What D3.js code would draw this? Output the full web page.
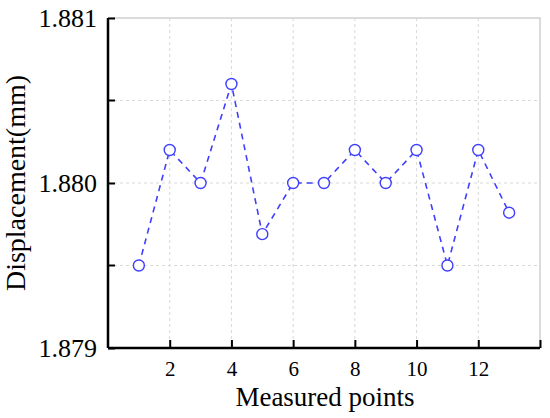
<!DOCTYPE html>
<html>
<head>
<meta charset="utf-8">
<title>Displacement</title>
<style>
  body { margin: 0; background: #fff; }
  svg { display: block; }
  text { font-family: "Liberation Serif", "Times New Roman", serif; fill: #000; }
</style>
<script src="https://d3js.org/d3.v7.min.js"></script>
</head>
<body>
<div id="chart"></div>
<script>
// data
var points = [1, 2, 3, 4, 5, 6, 7, 8, 9, 10, 11, 12, 13];
var displacement = [1.8795, 1.8802, 1.8800, 1.8806, 1.87969, 1.8800, 1.8800,
                    1.8802, 1.8800, 1.8802, 1.8795, 1.8802, 1.87982];
var xTicks = [2, 4, 6, 8, 10, 12];
var yTicks = [1.879, 1.880, 1.881];
var yMinor = [1.8795, 1.8805];

var svgDims = {width: 550, height: 418};
var margin = {top: 18, right: 10, bottom: 70, left: 108};
var width = svgDims.width - margin.left - margin.right;
var height = svgDims.height - margin.top - margin.bottom;

var svg = d3.select("#chart").append("svg")
  .attr("width", svgDims.width)
  .attr("height", svgDims.height);

var g = svg.append("g")
  .attr("transform", "translate(" + margin.left + "," + margin.top + ")");

var x = d3.scaleLinear().domain([0, 14]).range([0, width]);
var y = d3.scaleLinear().domain([1.879, 1.881]).range([height, 0]);

// grid
g.append("g").selectAll("line").data(xTicks).join("line")
  .attr("x1", function(d) { return x(d); }).attr("x2", function(d) { return x(d); })
  .attr("y1", 0).attr("y2", height)
  .attr("stroke", "#d9d9d9").attr("stroke-width", 1).attr("stroke-dasharray", "3,3");
g.append("g").selectAll("line").data([1.8795, 1.880, 1.8805]).join("line")
  .attr("y1", function(d) { return y(d); }).attr("y2", function(d) { return y(d); })
  .attr("x1", 0).attr("x2", width)
  .attr("stroke", "#d9d9d9").attr("stroke-width", 1).attr("stroke-dasharray", "3,3");

// top / right frame
g.append("path")
  .attr("d", "M0,0H" + width + "V" + height)
  .attr("fill", "none").attr("stroke", "#cfcfcf").attr("stroke-width", 1.5);

// x axis
var xAxis = d3.axisBottom(x).tickValues(xTicks.concat([14]))
  .tickSize(-8).tickPadding(13)
  .tickFormat(function(d) { return d === 14 ? "" : d; });
var gx = g.append("g").attr("transform", "translate(0," + height + ")").call(xAxis);
gx.select(".domain").attr("d", "M0,0H" + width).attr("stroke", "#000").attr("stroke-width", 2.5);
gx.selectAll(".tick line").attr("stroke", "#000").attr("stroke-width", 2);
gx.selectAll("text").attr("font-size", 21).attr("dy", "0.72em")
  .style("font-family", "'Liberation Serif', 'Times New Roman', serif");

// y axis
var yAxis = d3.axisLeft(y).tickValues(yTicks).tickSize(-7).tickPadding(11)
  .tickFormat(d3.format(".3f"));
var gy = g.append("g").call(yAxis);
gy.select(".domain").attr("d", "M0," + height + "V0").attr("stroke", "#000").attr("stroke-width", 2.5);
gy.selectAll(".tick line").attr("stroke", "#000").attr("stroke-width", 2);
gy.selectAll("text").attr("font-size", 26)
  .style("font-family", "'Liberation Serif', 'Times New Roman', serif");
g.append("g").selectAll("line").data(yMinor).join("line")
  .attr("x1", 0).attr("x2", 7)
  .attr("y1", function(d) { return y(d); }).attr("y2", function(d) { return y(d); })
  .attr("stroke", "#000").attr("stroke-width", 2);

// series
var line = d3.line()
  .x(function(d, i) { return x(points[i]); })
  .y(function(d) { return y(d); });

g.append("path").datum(displacement)
  .attr("fill", "none").attr("stroke", "#3f3fff").attr("stroke-width", 1.6)
  .attr("stroke-dasharray", "6,5").attr("d", line);

g.append("g").selectAll("circle").data(displacement).join("circle")
  .attr("cx", function(d, i) { return x(points[i]); })
  .attr("cy", function(d) { return y(d); })
  .attr("r", 5.5)
  .attr("fill", "#fff").attr("stroke", "#3f3fff").attr("stroke-width", 1.4);

// titles
svg.append("text")
  .attr("x", margin.left + width / 2 + 1).attr("y", 406)
  .attr("text-anchor", "middle").attr("font-size", 27)
  .text("Measured points");
svg.append("text")
  .attr("transform", "translate(25," + (margin.top + height / 2) + ") rotate(-90)")
  .attr("text-anchor", "middle").attr("font-size", 28)
  .text("Displacement(mm)");
</script>
</body>
</html>
